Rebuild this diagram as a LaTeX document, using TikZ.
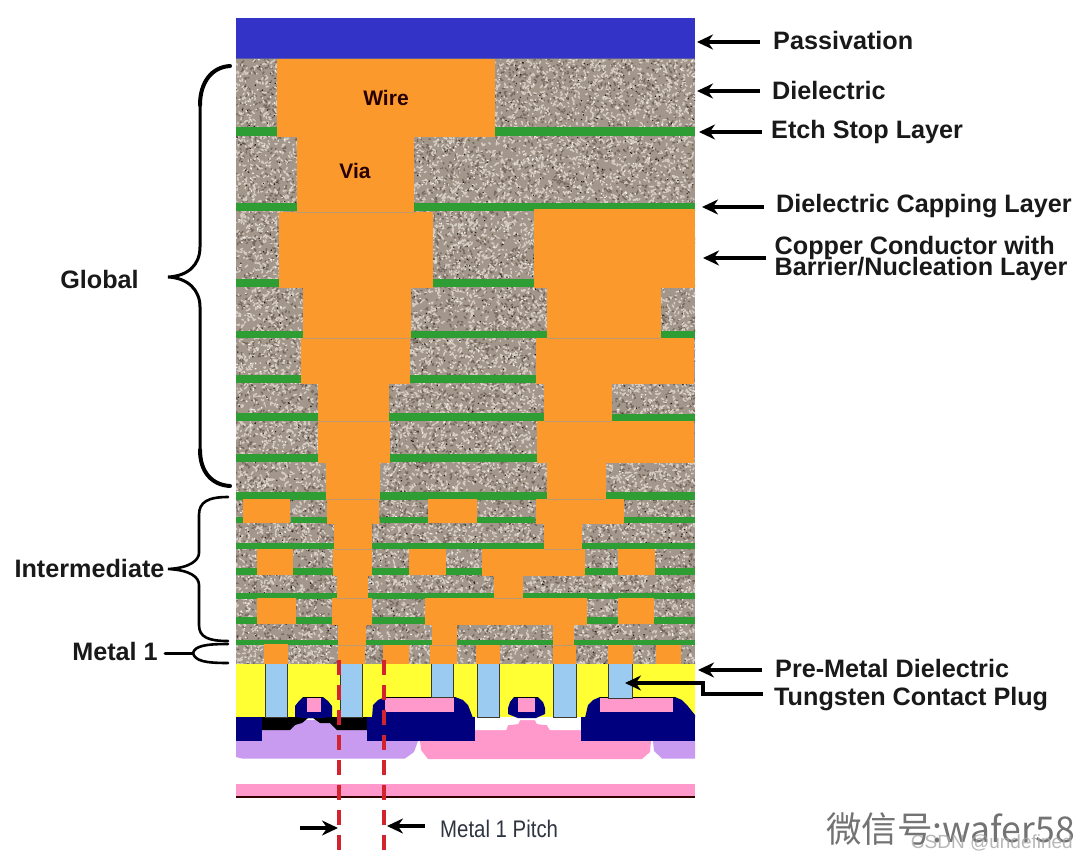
\documentclass[tikz,border=0pt]{standalone}
\usepackage{fontspec}
\setmainfont{Liberation Sans}
\newfontfamily\cjkwm{Noto Sans CJK SC}
\usetikzlibrary{arrows.meta}
\definecolor{cuorange}{HTML}{FB992C}
\definecolor{esgreen}{HTML}{2E9E34}
\definecolor{passblue}{HTML}{3333C8}
\definecolor{pmdyellow}{HTML}{FFFF33}
\definecolor{plugblue}{HTML}{9CCBF2}
\definecolor{navyd}{HTML}{00007E}
\definecolor{pinkd}{HTML}{FF99CC}
\definecolor{purpled}{HTML}{C89BF0}
\definecolor{dielbase}{HTML}{A3968B}
\definecolor{diellight}{HTML}{D6CEC4}
\definecolor{dieldark}{HTML}{75685E}
\definecolor{ifline}{HTML}{BE9A70}
\definecolor{redd}{HTML}{D2232E}
\definecolor{pitchtext}{HTML}{2E3440}
\newcommand{\speck}[4]{% colour, batches, width, segment length
  \foreach \bb in {1,...,#2}{%
    \draw[#1,line width=#3,line cap=round]
      \foreach \ii in {1,...,400}{ ({236+459*rnd},{59+606*rnd}) -- ++({(rnd-.5)*#4},{(rnd-.5)*#4}) };
  }%
}
\tikzset{
  lbl/.style={font=\bfseries\fontsize{25.2}{21}\selectfont,anchor=west,text=black!90,inner sep=0pt,align=left},
  arr/.style={line width=3.6,-{Stealth[length=16,width=15]}},
  bracel/.style={line width=3,line cap=round},
  bracee/.style={line width=4,line cap=round},
  bracem/.style={line width=2.6,line cap=round},
  iface/.style={ifline,line width=0.7},
  plugbox/.style={fill=plugblue},
  plugedge/.style={draw=black!75!olive,line width=1},
  gateout/.style={fill=navyd,draw=black,line width=0.6},
  reddash/.style={redd,line width=3.6,dash pattern=on 15 off 10},
}
\begin{document}
\begin{tikzpicture}[x=1pt,y=-1pt]
\useasboundingbox (0,0) rectangle (1077,860);
\fill[white] (0,0) rectangle (1077,860);
% passivation
\fill[passblue] (236,18) rectangle (695,58);
\fill[gray!70!blue] (236,57.5) rectangle (695,59.5);
% dielectric texture
\begin{scope}
\clip (236,59) rectangle (695,665);
\fill[dielbase] (236,59) rectangle (695,665);
\pgfmathsetseed{7}
\speck{dieldark}{26}{1.4}{4.5}
\speck{diellight}{36}{1.5}{5}
\speck{white!90!dielbase}{4}{1.2}{2}
\speck{black!70!dieldark}{3}{1.2}{1.5}
\end{scope}
% green etch stop layers
\foreach \a/\b/\c/\d in {
 236/277/127/136, 495/695/127/136,
 236/297/203/211, 414/535/203/211, 535/695/203/209,
 236/279/279/287, 433/534/279/287,
 236/303/331/338, 411/547/331/338, 661/695/331/338,
 236/301/375/383, 410/536/375/383,
 236/318/413/421, 389/544/413/421, 612/695/414/421,
 236/318/454/462, 390/537/454/462,
 236/326/492/500, 380/547/492/500, 606/695/492/500,
 236/243/517/523, 291/327/517/523, 380/428/517/523, 477/535/517/523, 624/695/517/523,
 236/334/543/549, 372/544/543/549, 582/695/543/549,
 236/257/568/575, 293/333/568/575, 372/409/568/575, 446/482/568/575, 585/618/568/575, 655/695/568/575,
 236/337/593/599, 368/494/593/599, 523/695/593/599,
 236/257/617/624, 296/332/617/624, 372/425/617/624, 587/618/617/624, 654/695/617/624,
 236/338/640/645, 366/432/640/645, 457/553/640/645, 574/695/640/645}
 { \fill[esgreen] (\a,\c) rectangle (\b,\d); }
% copper
\foreach \a/\b/\c/\d in {
 277/495/59/137, 297/414/136/212,
 279/433/212/288, 534/695/209/288,
 303/411/287/338, 547/661/287/338,
 301/410/338/384, 536/694/338/384,
 318/389/383/421, 544/612/383/421,
 318/390/421/463, 537/694/421/463,
 326/380/462/500, 547/606/462/500,
 243/290/499/523, 327/379/499/524, 428/477/499/523, 536/624/499/524,
 334/372/523/549, 544/582/523/549,
 257/293/549/575, 333/372/549/576, 409/446/549/575, 482/585/549/576, 618/655/549/575,
 337/368/575/598, 494/523/575/598,
 257/296/598/624, 332/372/598/625, 425/587/598/625, 618/654/598/624,
 338/366/624/645, 432/457/624/645, 553/574/624/645,
 264/288/644/665, 338/365/645/665, 383/409/645/665, 430/457/645/665, 476/500/645/665, 553/576/645/665, 608/633/645/665, 656/681/645/665}
 { \fill[cuorange] (\a,\c) rectangle (\b,\d); }
% interfaces between copper levels
\foreach \a/\b/\c in {297/414/212, 303/411/338, 547/661/338, 318/389/421, 544/612/421, 327/379/499, 547/606/499, 334/372/549, 544/582/549, 337/368/598, 494/523/598, 338/366/645, 432/457/645, 553/574/645}
 { \draw[iface] (\a,\c) -- (\b,\c); }
% pre-metal dielectric
\fill[pmdyellow] (236,664) rectangle (695,717);
% wells
\fill[purpled] (236,741) -- (236,757) -- (242,758.5) -- (405,758.5) -- (414,752) -- (418,741) -- cycle;
\fill[purpled] (262,720) rectangle (368,742);
\fill[purpled] (653,741) -- (654,751) -- (662,758.5) -- (695,758.5) -- (695,741) -- cycle;
\fill[pinkd] (420,741) -- (421,750) -- (428,759) -- (642,759) -- (650,752) -- (651,741) -- (581,741) -- (581,730) -- (550,730) -- (547,725) -- (537,724) -- (535,720) -- (520,720) -- (518,724) -- (508,725) -- (506,730) -- (470,730) -- (470,741) -- cycle;
\fill[white] (475,717) -- (581,717) -- (581,730) -- (550,730) -- (547,725) -- (537,724) -- (535,720) -- (520,720) -- (518,724) -- (508,725) -- (506,730) -- (475,730) -- cycle;
% black silicide and navy blocks
\fill[navyd] (236,717) rectangle (262,741);
\fill[black] (262,717) -- (367,717) -- (367,730) -- (337,730) -- (330,723) -- (320,723) -- (313,718) -- (308,718) -- (302,723) -- (295,725) -- (290,730) -- (262,730) -- cycle;
\fill[navyd] (367,717) rectangle (475,741);
\fill[navyd] (581,717) rectangle (695,741);
% plugs
\foreach \a/\b/\e in {265/287/717, 340/362/717, 431/453/697, 477/499/717, 553/576/717, 608/632/698}
 { \fill[plugbox] (\a,664) rectangle (\b,\e);
   \draw[plugedge] (\a,664) -- (\a,\e) -- (\b,\e) -- (\b,664); }
% gates
\fill[navyd] (295,717) -- (295,706) -- (299,701) -- (303,697) -- (323,697) -- (328,701) -- (332,706) -- (332,717) -- (322,718) -- (305,718) -- cycle;
\draw[black,line width=0.8] (303,697) -- (323,697);
\fill[navyd] (372,718) -- (373,705) -- (378,700) -- (385,697) -- (455,697) -- (463,700) -- (468,705) -- (473,718) -- cycle;
\draw[black,line width=0.8] (385,697) -- (455,697);
\fill[navyd] (508,708) -- (510,702) -- (514,697) -- (538,697) -- (543,702) -- (545,708) -- (545,714) -- (536,718) -- (518,718) -- (508,714) -- cycle;
\draw[black,line width=0.8] (514,697) -- (538,697);
\fill[navyd] (585,718) -- (588,705) -- (593,700) -- (600,697) -- (675,697) -- (682,700) -- (687,705) -- (695,715) -- (695,718) -- cycle;
\draw[black,line width=0.8] (600,697) -- (675,697);
\fill[pinkd] (307,698) rectangle (321,712);
\fill[pinkd] (385,698) rectangle (454,712);
\fill[pinkd] (518,698) rectangle (535,712);
\fill[pinkd] (600,698) rectangle (673,712);
\draw[plugedge] (431,664) -- (431,697) -- (453,697) -- (453,664);
\fill[plugbox] (608.5,664) rectangle (631.5,698);
\draw[plugedge] (608,664) -- (608,698) -- (632,698) -- (632,664);
% substrate strip
\fill[pinkd] (236,784) rectangle (695,797);
\draw[black!80!red,line width=1.3] (236,797) -- (695,797);
% pitch lines
\coordinate (pl1) at (339,660); \coordinate (pl2) at (339,855);
\coordinate (pr1) at (384,660); \coordinate (pr2) at (384,855);
\draw[reddash] (pl1) -- (pl2);
\draw[reddash] (pr1) -- (pr2);
% in-stack labels
\node[font=\bfseries\fontsize{21}{24}\selectfont,text=black!85!red,inner sep=0pt] (wire) at (386,98) {Wire};
\node[font=\bfseries\fontsize{21}{24}\selectfont,text=black!85!red,inner sep=0pt] (via) at (355,171) {Via};
% right labels
\node[lbl] (lpass) at (773,40.5) {Passivation};
\node[lbl] (ldiel) at (772,90) {Dielectric};
\node[lbl] (letch) at (771,132) {Etch Stop Layer};
\node[lbl] (lcap)  at (776,206.5) {Dielectric Capping Layer};
\node[lbl] (lcu)   at (774.5,258) {Copper Conductor with\\[-3.5pt]Barrier/Nucleation Layer};
\node[lbl] (lpmd)  at (775,668) {Pre-Metal Dielectric};
\node[lbl] (lplug) at (774,699) {Tungsten Contact Plug};
\coordinate (t1) at (760,42);  \coordinate (h1) at (697,42);
\coordinate (t2) at (760,91);  \coordinate (h2) at (697,91);
\coordinate (t3) at (762,132); \coordinate (h3) at (699,132);
\coordinate (t4) at (764,207); \coordinate (h4) at (702,207);
\coordinate (t5) at (766,258); \coordinate (h5) at (703,258);
\coordinate (t6) at (762,670); \coordinate (h6) at (698,670);
\coordinate (t7) at (763,694); \coordinate (b7) at (703,694); \coordinate (c7) at (703,683); \coordinate (h7) at (625,683);
\draw[arr] (t1) -- (h1);
\draw[arr] (t2) -- (h2);
\draw[arr] (t3) -- (h3);
\draw[arr] (t4) -- (h4);
\draw[arr] (t5) -- (h5);
\draw[arr] (t6) -- (h6);
\draw[arr] (t7) -- (b7) -- (c7) -- (h7);
% left labels and braces
\node[lbl,anchor=center] (lglobal) at (99.5,279.5) {Global};
\node[lbl,anchor=center] (linter) at (89.5,568.5) {Intermediate};
\node[lbl,anchor=center] (lm1) at (115,651.5) {Metal 1};
\draw[bracel] (200,105) -- (200,247) .. controls (200,265) and (188,276) .. (168,277) .. controls (188,278) and (200,290) .. (200,307) -- (200,450);
\draw[bracee] (230,66) .. controls (212,67) and (200,82) .. (200,105);
\draw[bracee] (200,450) .. controls (200,472) and (212,485) .. (230,486);
\draw[bracem] (228,497) .. controls (208,497) and (199,502) .. (199,515) -- (199,553) .. controls (199,560) and (190,568) .. (168,569) .. controls (190,570) and (199,577) .. (199,585) -- (199,625) .. controls (199,637) and (208,641) .. (228,641);
\draw[bracem] (228,644) .. controls (205,644) and (195,646) .. (193,653) .. controls (195,661) and (205,663) .. (228,663);
\coordinate (m1tip) at (165,653.5); \coordinate (m1mid) at (193,653.5);
\draw[bracem] (m1tip) -- (m1mid);
% metal 1 pitch
\node[font=\fontsize{24}{26}\selectfont,text=pitchtext,inner sep=0pt,anchor=west,xscale=0.85] (lpitch) at (440,829) {Metal 1 Pitch};
\coordinate (pa1) at (300,828); \coordinate (pa2) at (338,828);
\coordinate (pb1) at (425,826); \coordinate (pb2) at (387,826);
\draw[arr] (pa1) -- (pa2);
\draw[arr] (pb1) -- (pb2);
% watermark
\node[font=\cjkwm\fontsize{35.5}{38}\selectfont,text=black!55,inner sep=0pt,anchor=east] (wm) at (1075,829) {微信号:wafer58};
\node[font=\fontsize{19}{21}\selectfont,text=black!35,inner sep=0pt,anchor=east,opacity=.8] (csdn) at (1073,843) {CSDN @undefined};
\end{tikzpicture}
\end{document}
